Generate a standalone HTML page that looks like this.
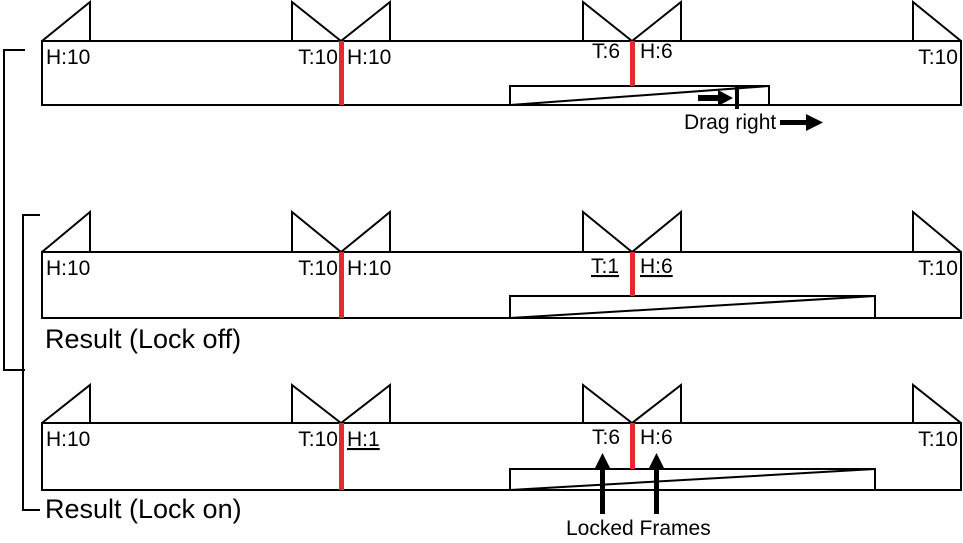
<!DOCTYPE html>
<html><head><style>body{margin:0;background:#fff}svg{display:block}text{font-family:"Liberation Sans",Arial,sans-serif;font-size:21px;fill:#000}</style></head><body>
<svg width="963" height="543" viewBox="0 0 963 543" xmlns="http://www.w3.org/2000/svg">
<g fill="none" stroke="#000" stroke-width="2">
<polyline points="25,50 4,50 4,370 25,370"/>
<polyline points="40,215 23,215 23,510 40,510"/>
<rect x="42" y="41" width="919" height="64"/>
<polyline points="42,41 90,2 90,41"/>
<polyline points="292,41 292,2 341,41 390,2 390,41"/>
<polyline points="583,41 583,2 632,41 681,2 681,41"/>
<polyline points="913,41 913,2 961,41"/>
<rect x="510" y="86" width="259" height="19"/>
<line x1="510" y1="105" x2="769" y2="86"/>
<rect x="42" y="252" width="919" height="66"/>
<polyline points="42,252 90,212 90,252"/>
<polyline points="292,252 292,212 341,252 390,212 390,252"/>
<polyline points="583,252 583,212 632,252 681,212 681,252"/>
<polyline points="913,252 913,212 961,252"/>
<rect x="510" y="296" width="365" height="22"/>
<line x1="510" y1="318" x2="875" y2="296"/>
<rect x="42" y="423" width="919" height="67"/>
<polyline points="42,423 90,385 90,423"/>
<polyline points="292,423 292,385 341,423 390,385 390,423"/>
<polyline points="583,423 583,385 632,423 681,385 681,423"/>
<polyline points="913,423 913,385 961,423"/>
<rect x="510" y="469" width="365" height="21"/>
<line x1="510" y1="490" x2="875" y2="469"/>
</g>
<g fill="#e32b2b">
<rect x="339" y="41" width="5" height="64"/>
<rect x="630" y="41" width="5" height="45"/>
<rect x="339" y="252" width="5" height="66"/>
<rect x="630" y="252" width="5" height="44"/>
<rect x="339" y="423" width="5" height="67"/>
<rect x="630" y="423" width="5" height="46"/>
</g>
<g fill="#000">
<rect x="735" y="87" width="4" height="22"/>
<rect x="698" y="95" width="22" height="6"/><polygon points="718,90 733,98 718,106"/>
<rect x="780" y="120" width="28" height="5"/><polygon points="806,114 823,122.5 806,131"/>
<rect x="600" y="468" width="5" height="46"/><polygon points="594,470 602.5,453 611,470"/>
<rect x="654" y="468" width="5" height="46"/><polygon points="648,470 656.5,453 665,470"/>
</g>
<text x="46" y="64">H:10</text>
<text x="338" y="64" text-anchor="end">T:10</text>
<text x="347" y="64">H:10</text>
<text x="620" y="58" text-anchor="end">T:6</text>
<text x="640" y="58">H:6</text>
<text x="958" y="64" text-anchor="end">T:10</text>
<text x="684" y="129">Drag right</text>

<text x="46" y="275">H:10</text>
<text x="338" y="275" text-anchor="end">T:10</text>
<text x="347" y="275">H:10</text>
<text x="619" y="273" text-anchor="end" text-decoration="underline">T:1</text>
<text x="640" y="273" text-decoration="underline">H:6</text>
<text x="958" y="275" text-anchor="end">T:10</text>
<text x="45" y="348" style="font-size:27px">Result (Lock off)</text>

<text x="46" y="446">H:10</text>
<text x="338" y="446" text-anchor="end">T:10</text>
<text x="347" y="446" text-decoration="underline">H:1</text>
<text x="620" y="444" text-anchor="end">T:6</text>
<text x="640" y="444">H:6</text>
<text x="958" y="446" text-anchor="end">T:10</text>
<text x="45" y="518" style="font-size:27px">Result (Lock on)</text>
<text x="566" y="535">Locked Frames</text>
</svg>
</body></html>
